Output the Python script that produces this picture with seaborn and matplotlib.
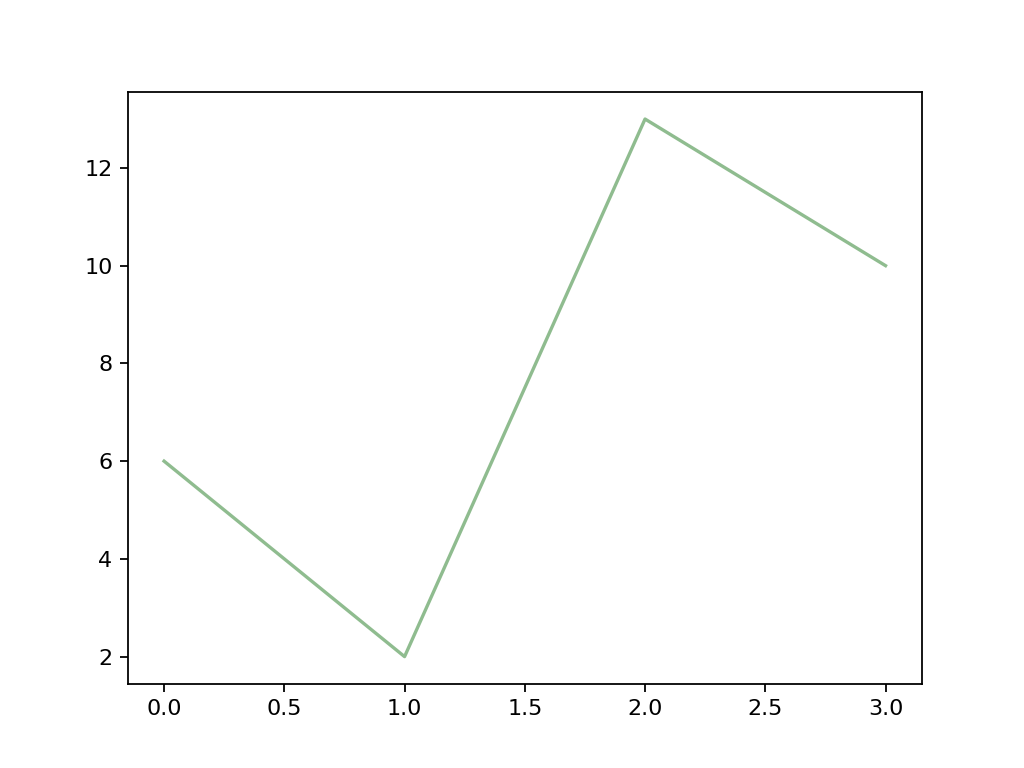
import matplotlib
matplotlib.use("Agg")
import matplotlib.pyplot as plt
import seaborn as sns

x_vals = [0, 1, 2, 3]
y_vals = [6, 2, 13, 10]

fig, ax = plt.subplots(figsize=(6.4, 4.8), dpi=160)
sns.lineplot(x=x_vals, y=y_vals, color='darkseagreen', ax=ax)
fig.savefig("out.png", dpi=160)
